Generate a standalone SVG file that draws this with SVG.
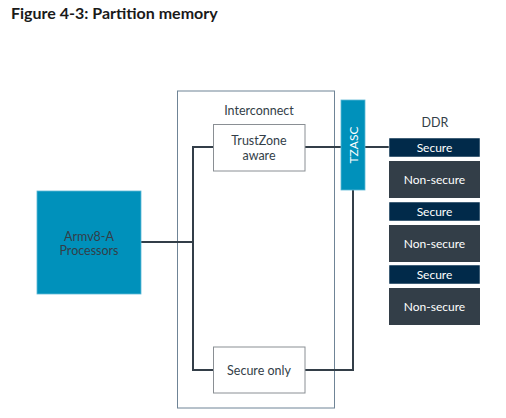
<svg xmlns="http://www.w3.org/2000/svg" width="506" height="418" viewBox="0 0 506 418">
<style>
text{font-family:Lato,"Open Sans","Liberation Sans",sans-serif;}
.lbl{font-size:12.5px;fill:#333e48;text-anchor:middle;}
.wt{font-size:12px;fill:#ffffff;text-anchor:middle;}
.wire{fill:none;stroke:#333e48;stroke-width:2;}
.box{fill:#ffffff;stroke:#8a8f94;stroke-width:1;}
.sec{fill:#012a4a;stroke:#ffffff;stroke-width:0.5;}
.ns{fill:#333e48;}
</style>
<rect width="506" height="418" fill="#ffffff"/>
<text x="11" y="18.5" font-weight="bold" font-size="16" fill="#1a1a1a">Figure 4-3: Partition memory</text>
<g id="interconnect">
<rect x="177.5" y="91" width="157" height="317" fill="#ffffff" stroke="#6f8496" stroke-width="1"/>
<text class="lbl" x="259" y="115">Interconnect</text>
</g>
<g id="connectors">
<polyline class="wire" points="141,242 193,242"/>
<polyline class="wire" points="213,147 193,147 193,370 213,370"/>
<polyline class="wire" points="305,147 389,147"/>
<polyline class="wire" points="305,370 353,370 353,190"/>
</g>
<g id="armv8">
<rect x="37" y="191" width="104" height="103" fill="#0091bb" stroke="#5cb8d6" stroke-width="0.8"/>
<text class="lbl" x="89" y="241">Armv8-A</text>
<text class="lbl" x="89" y="255">Processors</text>
</g>
<g id="trustzone">
<rect class="box" x="213.5" y="124.5" width="91.5" height="46.5"/>
<text class="lbl" x="259" y="145">TrustZone</text>
<text class="lbl" x="259" y="159.5">aware</text>
</g>
<g id="secureonly">
<rect class="box" x="213.5" y="347" width="91.5" height="46"/>
<text class="lbl" x="259" y="374.5">Secure only</text>
</g>
<g id="tzasc">
<rect x="341" y="100" width="24" height="90" fill="#0091bb" stroke="#5cb8d6" stroke-width="0.8"/>
<text class="wt" transform="translate(357.5,145) rotate(-90)" x="0" y="0">TZASC</text>
</g>
<g id="ddr">
<text class="lbl" x="435" y="127">DDR</text>
<rect class="sec" x="389" y="138" width="91" height="19"/>
<text class="wt" x="434.5" y="151.5">Secure</text>
<rect class="ns" x="389" y="161" width="91" height="37"/>
<text class="wt" x="434.5" y="183.5">Non-secure</text>
<rect class="sec" x="389" y="202" width="91" height="19"/>
<text class="wt" x="434.5" y="215.5">Secure</text>
<rect class="ns" x="389" y="225" width="91" height="37"/>
<text class="wt" x="434.5" y="247.5">Non-secure</text>
<rect class="sec" x="389" y="265" width="91" height="19"/>
<text class="wt" x="434.5" y="278.5">Secure</text>
<rect class="ns" x="389" y="288" width="91" height="37"/>
<text class="wt" x="434.5" y="310.5">Non-secure</text>
</g>
</svg>
